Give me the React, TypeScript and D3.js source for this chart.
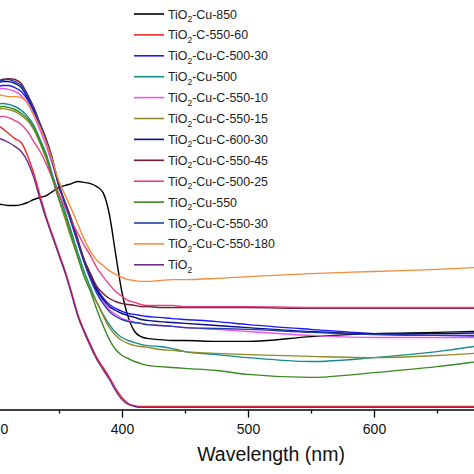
import React, { useEffect, useRef } from 'react';
import * as d3 from 'd3';

// wavelength grid (nm) shared by every spectrum
const wavelengths = [300, 305, 310, 315, 320, 325, 330, 335, 340, 345, 350, 355, 360, 365, 370, 375, 380, 385, 390, 395, 400, 405, 410, 415, 420, 430, 440, 450, 475, 500, 550, 600, 650, 700];

// absorbance (a.u.)
const cu850 = [0.687, 0.683, 0.68, 0.68, 0.683, 0.69, 0.7, 0.707, 0.713, 0.727, 0.74, 0.747, 0.753, 0.76, 0.757, 0.753, 0.743, 0.723, 0.65, 0.517, 0.39, 0.307, 0.26, 0.243, 0.237, 0.233, 0.23, 0.23, 0.227, 0.227, 0.243, 0.253, 0.257, 0.263];
const c55060 = [0.95, 0.937, 0.92, 0.903, 0.89, 0.847, 0.787, 0.713, 0.64, 0.58, 0.52, 0.46, 0.39, 0.317, 0.263, 0.217, 0.173, 0.14, 0.107, 0.07, 0.04, 0.02, 0.013, 0.01, 0.01, 0.01, 0.01, 0.01, 0.01, 0.01, 0.01, 0.01, 0.01, 0.01];
const cuC50030 = [1.073, 1.08, 1.08, 1.073, 1.06, 1.033, 0.993, 0.943, 0.887, 0.82, 0.747, 0.683, 0.62, 0.557, 0.497, 0.447, 0.403, 0.373, 0.35, 0.337, 0.327, 0.32, 0.317, 0.313, 0.31, 0.307, 0.303, 0.3, 0.293, 0.283, 0.267, 0.253, 0.247, 0.243];
const cu500 = [1.017, 1.02, 1.017, 1.01, 0.997, 0.977, 0.947, 0.9, 0.85, 0.78, 0.717, 0.657, 0.59, 0.523, 0.46, 0.407, 0.357, 0.317, 0.283, 0.257, 0.24, 0.23, 0.223, 0.217, 0.213, 0.21, 0.203, 0.193, 0.183, 0.173, 0.16, 0.173, 0.193, 0.223];
const cuC55010 = [1.067, 1.07, 1.067, 1.06, 1.047, 1.02, 0.98, 0.93, 0.877, 0.813, 0.747, 0.683, 0.617, 0.553, 0.493, 0.44, 0.393, 0.36, 0.333, 0.317, 0.303, 0.297, 0.29, 0.287, 0.283, 0.28, 0.277, 0.273, 0.267, 0.26, 0.247, 0.24, 0.24, 0.24];
const cuC55015 = [1.0, 1.003, 1.0, 0.993, 0.98, 0.963, 0.933, 0.887, 0.833, 0.767, 0.7, 0.633, 0.567, 0.507, 0.443, 0.397, 0.357, 0.313, 0.273, 0.247, 0.23, 0.22, 0.213, 0.21, 0.207, 0.2, 0.197, 0.193, 0.187, 0.183, 0.177, 0.173, 0.18, 0.193];
const cuC60030 = [1.083, 1.093, 1.093, 1.087, 1.073, 1.04, 1.0, 0.947, 0.89, 0.823, 0.747, 0.683, 0.623, 0.557, 0.493, 0.44, 0.397, 0.367, 0.343, 0.33, 0.32, 0.313, 0.307, 0.3, 0.297, 0.293, 0.29, 0.287, 0.28, 0.273, 0.26, 0.253, 0.253, 0.257];
const cuC55045 = [1.093, 1.1, 1.103, 1.1, 1.087, 1.05, 1.007, 0.953, 0.9, 0.833, 0.74, 0.69, 0.633, 0.567, 0.5, 0.453, 0.41, 0.387, 0.37, 0.36, 0.353, 0.35, 0.347, 0.343, 0.343, 0.34, 0.34, 0.34, 0.34, 0.34, 0.337, 0.337, 0.337, 0.337];
const cuC50025 = [0.973, 0.977, 0.973, 0.963, 0.95, 0.927, 0.893, 0.86, 0.817, 0.767, 0.717, 0.673, 0.627, 0.587, 0.547, 0.513, 0.473, 0.443, 0.417, 0.393, 0.377, 0.363, 0.357, 0.35, 0.347, 0.347, 0.347, 0.343, 0.343, 0.343, 0.34, 0.34, 0.34, 0.34];
const cu550 = [1.007, 1.01, 1.007, 1.0, 0.987, 0.97, 0.94, 0.893, 0.843, 0.767, 0.7, 0.647, 0.577, 0.507, 0.443, 0.393, 0.333, 0.28, 0.233, 0.2, 0.18, 0.17, 0.16, 0.153, 0.147, 0.143, 0.14, 0.137, 0.13, 0.117, 0.107, 0.123, 0.143, 0.17];
const cuC55030 = [1.087, 1.097, 1.1, 1.093, 1.08, 1.047, 1.003, 0.95, 0.893, 0.827, 0.75, 0.687, 0.623, 0.557, 0.49, 0.433, 0.387, 0.353, 0.327, 0.31, 0.3, 0.293, 0.29, 0.287, 0.283, 0.28, 0.277, 0.273, 0.27, 0.267, 0.257, 0.25, 0.247, 0.247];
const cuC550180 = [1.05, 1.047, 1.043, 1.043, 1.04, 1.023, 0.983, 0.94, 0.887, 0.827, 0.76, 0.713, 0.667, 0.617, 0.567, 0.527, 0.497, 0.48, 0.463, 0.45, 0.44, 0.433, 0.43, 0.427, 0.427, 0.43, 0.433, 0.433, 0.437, 0.443, 0.453, 0.46, 0.467, 0.477];
const tio2 = [0.907, 0.9, 0.89, 0.877, 0.86, 0.827, 0.773, 0.7, 0.633, 0.573, 0.513, 0.453, 0.383, 0.31, 0.257, 0.21, 0.167, 0.133, 0.1, 0.063, 0.033, 0.017, 0.01, 0.007, 0.007, 0.007, 0.007, 0.007, 0.007, 0.007, 0.007, 0.007, 0.007, 0.007];

const seriesNames = ['TiO2-Cu-850', 'TiO2-C-550-60', 'TiO2-Cu-C-500-30', 'TiO2-Cu-500', 'TiO2-Cu-C-550-10', 'TiO2-Cu-C-550-15', 'TiO2-Cu-C-600-30', 'TiO2-Cu-C-550-45', 'TiO2-Cu-C-500-25', 'TiO2-Cu-550', 'TiO2-Cu-C-550-30', 'TiO2-Cu-C-550-180', 'TiO2'];
const seriesValues = [cu850, c55060, cuC50030, cu500, cuC55010, cuC55015, cuC60030, cuC55045, cuC50025, cu550, cuC55030, cuC550180, tio2];
const seriesColors = ['#000000', '#ee2b2b', '#1a1aff', '#168c8c', '#f055f0', '#8f8a2a', '#0a0a8c', '#701a2a', '#ee3f86', '#3a8a22', '#203fa8', '#f58b3b', '#6d2a8e'];

const xTicks = [300, 400, 500, 600];
const xMinorTicks = [350, 450, 550, 650];

const font = "Arial, 'Liberation Sans', sans-serif";

const App = () => {
  const chartRef = useRef<SVGSVGElement | null>(null);

  useEffect(() => {
    const svg = d3.select(chartRef.current);
    svg.selectAll('*').remove();

    const x = d3.scaleLinear().domain([300, 700]).range([-4, 500]);
    const y = d3.scaleLinear().domain([0, 1.2]).range([409.5, 49.5]);

    const line = d3.line<number>()
      .x((d, i) => x(wavelengths[i]))
      .y(d => y(d))
      .curve(d3.curveMonotoneX);

    // spectra
    svg.append('g')
      .selectAll('path')
      .data(seriesValues)
      .enter()
      .append('path')
      .attr('d', d => line(d))
      .attr('fill', 'none')
      .attr('stroke', (d, i) => seriesColors[i])
      .attr('stroke-width', 1.4);

    // x axis
    const axis = svg.append('g')
      .attr('transform', `translate(0, ${y(0)})`)
      .call(d3.axisBottom(x).tickValues(xTicks).tickSize(8).tickSizeOuter(0).tickPadding(7).tickFormat(d3.format('d')));
    axis.select('.domain').attr('stroke', '#000').attr('stroke-width', 1.5);
    axis.selectAll('.tick line').attr('stroke', '#000').attr('stroke-width', 1.3);
    axis.selectAll('.tick text').attr('font-family', font).attr('font-size', 14).attr('fill', '#111');

    const minor = svg.append('g')
      .attr('transform', `translate(0, ${y(0)})`)
      .call(d3.axisBottom(x).tickValues(xMinorTicks).tickSize(4).tickSizeOuter(0).tickFormat(() => ''));
    minor.select('.domain').remove();
    minor.selectAll('.tick line').attr('stroke', '#000').attr('stroke-width', 1.3);

    svg.append('text')
      .attr('x', 271)
      .attr('y', 461)
      .attr('text-anchor', 'middle')
      .attr('font-family', font)
      .attr('font-size', 19.5)
      .attr('fill', '#111')
      .text('Wavelength (nm)');

    // legend
    const legend = svg.append('g');
    const rows = legend.selectAll('g')
      .data(seriesNames)
      .enter()
      .append('g')
      .attr('transform', (d, i) => `translate(0, ${14 + i * 20.9})`);

    rows.append('line')
      .attr('x1', 134)
      .attr('x2', 164)
      .attr('stroke', (d, i) => seriesColors[i])
      .attr('stroke-width', 1.6);

    const label = rows.append('text')
      .attr('x', 168)
      .attr('y', 4.5)
      .attr('font-family', font)
      .attr('font-size', 12.4)
      .attr('fill', '#222');
    label.append('tspan').text('TiO');
    label.append('tspan').attr('font-size', 8.5).attr('dy', 3.5).text('2');
    label.append('tspan').attr('dy', -3.5).text(d => d.slice(4));
  }, []);

  return (
    <svg
      ref={chartRef}
      width={474}
      height={474}
      style={{ position: 'absolute', left: 0, top: 0, background: '#fff' }}
    />
  );
};

export default App;
